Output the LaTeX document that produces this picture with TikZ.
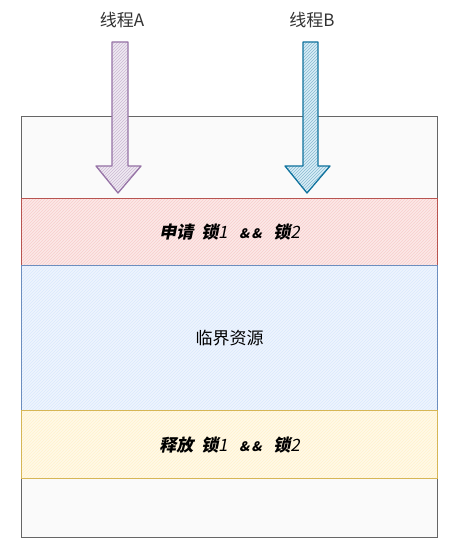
\documentclass[tikz,border=0pt]{standalone}
\usepackage{fontspec}
\newfontfamily\cjk{Noto Sans CJK SC}
\newfontfamily\cjkbi[FakeSlant=0.2]{Noto Sans CJK SC}
\usetikzlibrary{patterns}
\definecolor{redS}{HTML}{B85450}\definecolor{redF}{HTML}{F8CECC}
\definecolor{bluS}{HTML}{6C8EBF}\definecolor{bluF}{HTML}{DAE8FC}
\definecolor{yelS}{HTML}{D6B656}\definecolor{yelF}{HTML}{FFF2CC}
\definecolor{purS}{HTML}{9673A6}\definecolor{purF}{HTML}{E1D5E7}
\definecolor{cyaS}{HTML}{10739E}\definecolor{cyaF}{HTML}{B1DDF0}
\definecolor{grS}{HTML}{666666}\definecolor{grF}{HTML}{F5F5F5}
\tikzset{
  band/.style={draw=#1S, line width=1.2pt, minimum width=416pt, inner sep=0pt, anchor=north west,
     preaction={fill=#1F!45}, pattern=north east lines, pattern color=#1F},
  bandtext/.style={font=\cjkbi\bfseries\fontsize{17}{20}\selectfont},
  lbl/.style={font=\cjk\fontsize{17}{20}\selectfont, text=black!80},
  arr/.style={draw=#1S, line width=1.3pt, line join=round, preaction={fill=#1F!50}, pattern=north east lines, pattern color=#1S!50}
}
\newcommand{\amp}{{\fontsize{13}{15}\selectfont\&\,\&}}
\newcommand{\dg}[1]{{\mdseries #1}}
\begin{document}
\begin{tikzpicture}[x=1pt,y=-1pt]
\useasboundingbox[fill=white] (0,0) rectangle (474,553);
\node[draw=grS, line width=1.2pt, fill=grF!50, minimum width=416pt, minimum height=421pt, anchor=north west, inner sep=0pt] (outer) at (21,116) {};
\node[band=red, minimum height=67pt, bandtext] (req) at (21,198) {申请\ \ 锁\dg{1}\ \ \ \amp\ \ \ 锁\dg{2}};
\node[band=blu, minimum height=145pt, font=\cjk\fontsize{17}{20}\selectfont] (crit) at (21,265) {临界资源};
\node[band=yel, minimum height=68pt, bandtext] (rel) at (21,410) {释放\ \ 锁\dg{1}\ \ \ \amp\ \ \ 锁\dg{2}};
\node[lbl] (ta) at (122,20) {线程A};
\node[lbl] (tb) at (312,20) {线程B};
\draw[arr=pur] (112,42) -- (128,42) -- (128,166) -- (141,166) -- (118,193) -- (96,166) -- (112,166) -- cycle;
\draw[arr=cya] (303,42) -- (318,42) -- (318,166) -- (330,166) -- (307,193) -- (285,166) -- (303,166) -- cycle;
\end{tikzpicture}
\end{document}
